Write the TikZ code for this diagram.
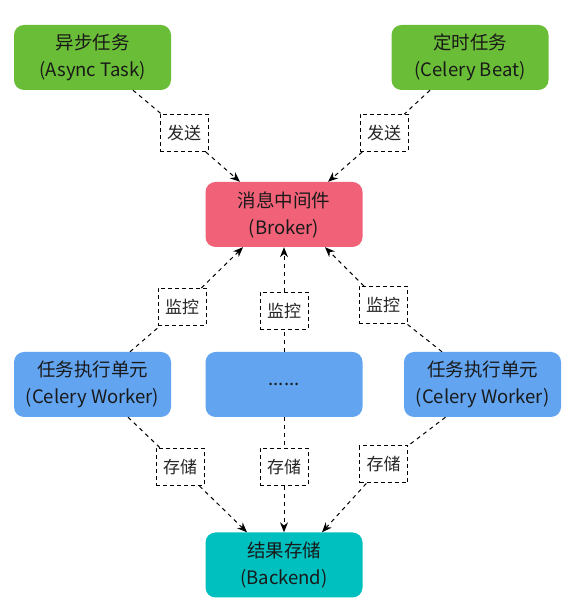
\documentclass[tikz,border=0pt]{standalone}
\usepackage{fontspec}
\setmainfont{Noto Sans CJK SC}
\usetikzlibrary{arrows.meta}
\definecolor{taskgreen}{HTML}{6ABD36}
\definecolor{brokerred}{HTML}{F16278}
\definecolor{workerblue}{HTML}{62A4F0}
\definecolor{backendteal}{HTML}{00BFBF}
\tikzset{
  box/.style={rounded corners=10pt, minimum width=157pt, minimum height=65pt,
    inner sep=0pt, align=center, text=black!90, font=\fontsize{18.5}{27}\selectfont},
  tag/.style={draw, dash pattern=on 4pt off 3pt, line width=1pt, fill=white,
    minimum width=48pt, minimum height=37pt, inner sep=0pt,
    text=black!85, font=\fontsize{17}{19}\selectfont},
  flow/.style={dash pattern=on 4pt off 4pt, line width=1pt,
    -{Stealth[length=10pt,width=8pt]}}
}
\begin{document}
\begin{tikzpicture}[x=1pt,y=1pt]
  \useasboundingbox (0,0) rectangle (574,604);
  % boxes
  \node [box, fill=taskgreen] (async) at (92.5,546.5) {异步任务\\(Async Task)};
  \node [box, fill=taskgreen] (beat) at (470,546.5) {定时任务\\(Celery Beat)};
  \node [box, fill=brokerred] (broker) at (284,389.5) {消息中间件\\(Broker)};
  \node [box, fill=workerblue] (worker1) at (92.5,219.5) {任务执行单元\\(Celery Worker)};
  \node [box, fill=workerblue] (workers) at (284,219.5) {......};
  \node [box, fill=workerblue] (worker2) at (482.5,219.5) {任务执行单元\\(Celery Worker)};
  \node [box, fill=backendteal] (backend) at (284,39) {结果存储\\(Backend)};
  % tags
  \node [tag] (send1) at (184,471) {发送};
  \node [tag] (send2) at (384,471) {发送};
  \node [tag] (watch1) at (182,297) {监控};
  \node [tag] (watch2) at (284,293) {监控};
  \node [tag] (watch3) at (383,299) {监控};
  \node [tag] (store1) at (180,137) {存储};
  \node [tag] (store2) at (284,137) {存储};
  \node [tag] (store3) at (383.5,139.5) {存储};
  % arrows
  \draw [flow] ([xshift=40.5pt]async.south) -- (send1) -- ([xshift=-44pt]broker.north);
  \draw [flow] ([xshift=-40pt]beat.south) -- (send2) -- ([xshift=44pt]broker.north);
  \draw [flow] ([xshift=37.5pt]worker1.north) -- (watch1) -- ([xshift=-41pt]broker.south);
  \draw [flow] (workers.north) -- (watch2) -- (broker.south);
  \draw [flow] ([xshift=-40.5pt]worker2.north) -- (watch3) -- ([xshift=41pt]broker.south);
  \draw [flow] ([xshift=35.5pt]worker1.south) -- (store1) -- ([xshift=-37pt]backend.north);
  \draw [flow] (workers.south) -- (store2) -- (backend.north);
  \draw [flow] ([xshift=-37pt]worker2.south) -- (store3) -- ([xshift=38pt]backend.north);
\end{tikzpicture}
\end{document}
